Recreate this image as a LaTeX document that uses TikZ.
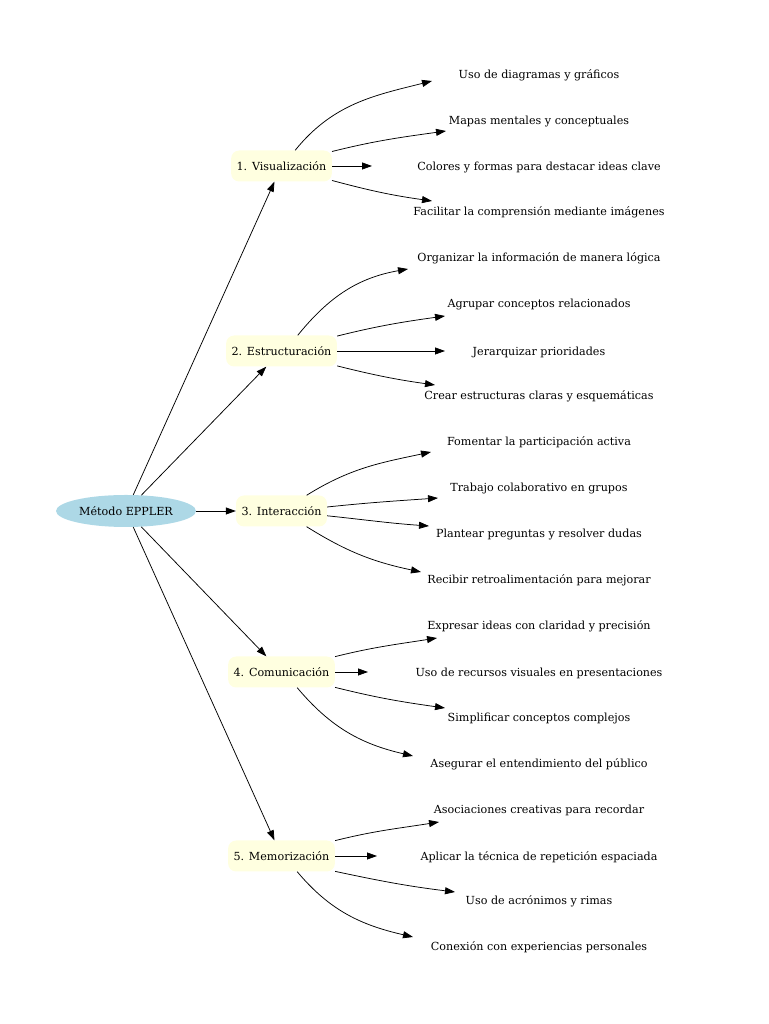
\documentclass[tikz,border=0pt]{standalone}
\usepackage{fontspec}
\setmainfont{DejaVu Serif}
\usetikzlibrary{arrows.meta,calc,shapes.geometric}
\definecolor{rootblue}{HTML}{ADD8E6}
\definecolor{midyellow}{HTML}{FFFFE0}
\begin{document}
\begin{tikzpicture}[x=1pt,y=1pt,
  font=\fontsize{11.15}{13}\selectfont,
  rootnode/.style={ellipse,fill=rootblue,minimum width=140pt,minimum height=32pt,inner sep=0pt},
  midnode/.style={rectangle,rounded corners=8pt,fill=midyellow,inner xsep=5.5pt,minimum height=31pt},
  leafnode/.style={inner sep=0pt,yshift=-1.5pt},
  arr/.style={-{Triangle[length=10pt,width=7pt]},line width=0.75pt}]
\useasboundingbox (0,0) rectangle (768,1024);
\node[rootnode] (root) at (126,513) {Método EPPLER};
\node[midnode] (m1) at (281.5,858) {1. Visualización};
\node[midnode] (m2) at (281.5,673) {2. Estructuración};
\node[midnode] (m3) at (281.5,513) {3. Interacción};
\node[midnode] (m4) at (281.5,352) {4. Comunicación};
\node[midnode] (m5) at (281.5,168) {5. Memorización};
% leaves
\node[leafnode] (l11) at (539,950) {Uso de diagramas y gráficos};
\node[leafnode] (l12) at (539,904) {Mapas mentales y conceptuales};
\node[leafnode] (l13) at (539,858) {Colores y formas para destacar ideas clave};
\node[leafnode] (l14) at (539,813) {Facilitar la comprensión mediante imágenes};
\node[leafnode] (l21) at (539,767) {Organizar la información de manera lógica};
\node[leafnode] (l22) at (539,721) {Agrupar conceptos relacionados};
\node[leafnode] (l23) at (539,673) {Jerarquizar prioridades};
\node[leafnode] (l24) at (539,629) {Crear estructuras claras y esquemáticas};
\node[leafnode] (l31) at (539,583) {Fomentar la participación activa};
\node[leafnode] (l32) at (539,537) {Trabajo colaborativo en grupos};
\node[leafnode] (l33) at (539,491) {Plantear preguntas y resolver dudas};
\node[leafnode] (l34) at (539,445) {Recibir retroalimentación para mejorar};
\node[leafnode] (l41) at (539,399) {Expresar ideas con claridad y precisión};
\node[leafnode] (l42) at (539,352) {Uso de recursos visuales en presentaciones};
\node[leafnode] (l43) at (539,307) {Simplificar conceptos complejos};
\node[leafnode] (l44) at (539,261) {Asegurar el entendimiento del público};
\node[leafnode] (l51) at (539,215) {Asociaciones creativas para recordar};
\node[leafnode] (l52) at (539,168) {Aplicar la técnica de repetición espaciada};
\node[leafnode] (l53) at (539,124) {Uso de acrónimos y rimas};
\node[leafnode] (l54) at (539,78) {Conexión con experiencias personales};
% root edges
\draw[arr] (root) -- (m1);
\draw[arr] (root) -- (m2);
\draw[arr] (root) -- (m3);
\draw[arr] (root) -- (m4);
\draw[arr] (root) -- (m5);
% group 1
\draw[arr] (m1.49) to[out=51,in=194] ($(l11)+(-107,-5.5)$);
\draw[arr] (m1.16) to[out=14,in=188] ($(l12)+(-93,-9.5)$);
\draw[arr] (m1.east) -- ($(l13)+(-167,1.5)$);
\draw[arr] (m1.-16) to[out=-15,in=172] ($(l14)+(-107,11.5)$);
% group 2
\draw[arr] (m2.44) to[out=51,in=190] ($(l21)+(-131,-10.5)$);
\draw[arr] (m2.15) to[out=14,in=188] ($(l22)+(-94,-11.5)$);
\draw[arr] (m2.east) -- ($(l23)+(-94,1.5)$);
\draw[arr] (m2.-15) to[out=-14,in=172] ($(l24)+(-104,11.5)$);
% group 3
\draw[arr] (m3.32) to[out=32,in=192] ($(l31)+(-108,-9.5)$);
\draw[arr] (m3.5) to[out=6,in=184] ($(l32)+(-101,-9.5)$);
\draw[arr] (m3.-6) to[out=-6,in=176] ($(l33)+(-110,8.5)$);
\draw[arr] (m3.-32) to[out=-32,in=168] ($(l34)+(-118,8.5)$);
% group 4
\draw[arr] (m4.16) to[out=14,in=189] ($(l41)+(-102,-11.5)$);
\draw[arr] (m4.east) -- ($(l42)+(-171,1.5)$);
\draw[arr] (m4.-16) to[out=-14,in=172] ($(l43)+(-94,10.5)$);
\draw[arr] (m4.-45) to[out=-50,in=167] ($(l44)+(-126,8.5)$);
% group 5
\draw[arr] (m5.16) to[out=14,in=189] ($(l51)+(-100,-11.5)$);
\draw[arr] (m5.east) -- ($(l52)+(-162,1.5)$);
\draw[arr] (m5.-16) to[out=-12,in=173] ($(l53)+(-84,9.5)$);
\draw[arr] (m5.-45) to[out=-50,in=167] ($(l54)+(-126,10.5)$);
\end{tikzpicture}
\end{document}
